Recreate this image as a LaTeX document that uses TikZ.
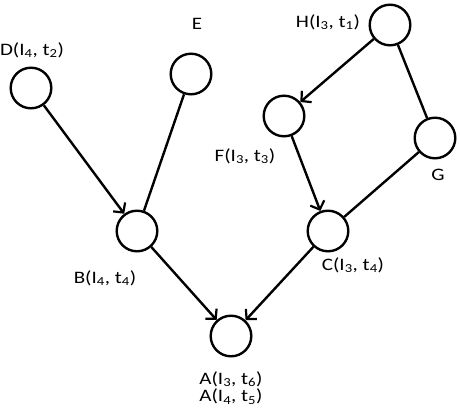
\documentclass[tikz,border=0pt]{standalone}
\usepackage{fontspec}
\setmainfont{Carlito}[FakeStretch=1.2]
\usetikzlibrary{arrows.meta}

\begin{document}
\begin{tikzpicture}[x=1pt,y=-1pt,
	vertex/.style={circle,draw,line width=2.4pt,minimum size=40.6pt,inner sep=0pt},
	lbl/.style={font=\fontsize{17.5}{17.5}\selectfont,inner sep=0pt},
	arc/.style={line width=2.4pt,-{Straight Barb[length=7pt,width=15pt,line width=2.2pt]}},
	link/.style={line width=2.4pt}]
	\useasboundingbox (0,0) rectangle (460,408);
	%结点
	\node[vertex] (D) at (31,88) {};
	\node[vertex] (E) at (191,74) {};
	\node[vertex] (H) at (390,25) {};
	\node[vertex] (F) at (284,116) {};
	\node[vertex] (G) at (435,138) {};
	\node[vertex] (B) at (137,231) {};
	\node[vertex] (C) at (328,231) {};
	\node[vertex] (A) at (231,336) {};
	%标签
	\node[lbl] (Dl) at (32,50) {D(I\textsubscript{4}, t\textsubscript{2})};
	\node[lbl] (El) at (197,24) {E};
	\node[lbl] (Hl) at (328,22) {H(I\textsubscript{3}, t\textsubscript{1})};
	\node[lbl] (Fl) at (245,156) {F(I\textsubscript{3}, t\textsubscript{3})};
	\node[lbl] (Gl) at (438,175) {G};
	\node[lbl] (Bl) at (105,278) {B(I\textsubscript{4}, t\textsubscript{4})};
	\node[lbl] (Cl) at (353,265) {C(I\textsubscript{3}, t\textsubscript{4})};
	\node[lbl,align=center] (Al) at (231,388) {A(I\textsubscript{3}, t\textsubscript{6})\\A(I\textsubscript{4}, t\textsubscript{5})};
	%边
	\draw[arc] (D)--(B);
	\draw[link] (E)--(B);
	\draw[arc] (H)--(F);
	\draw[link] (H)--(G);
	\draw[arc] (F)--(C);
	\draw[link] (G)--(C);
	\draw[arc] (B)--(A);
	\draw[arc] (C)--(A);
\end{tikzpicture}
\end{document}
